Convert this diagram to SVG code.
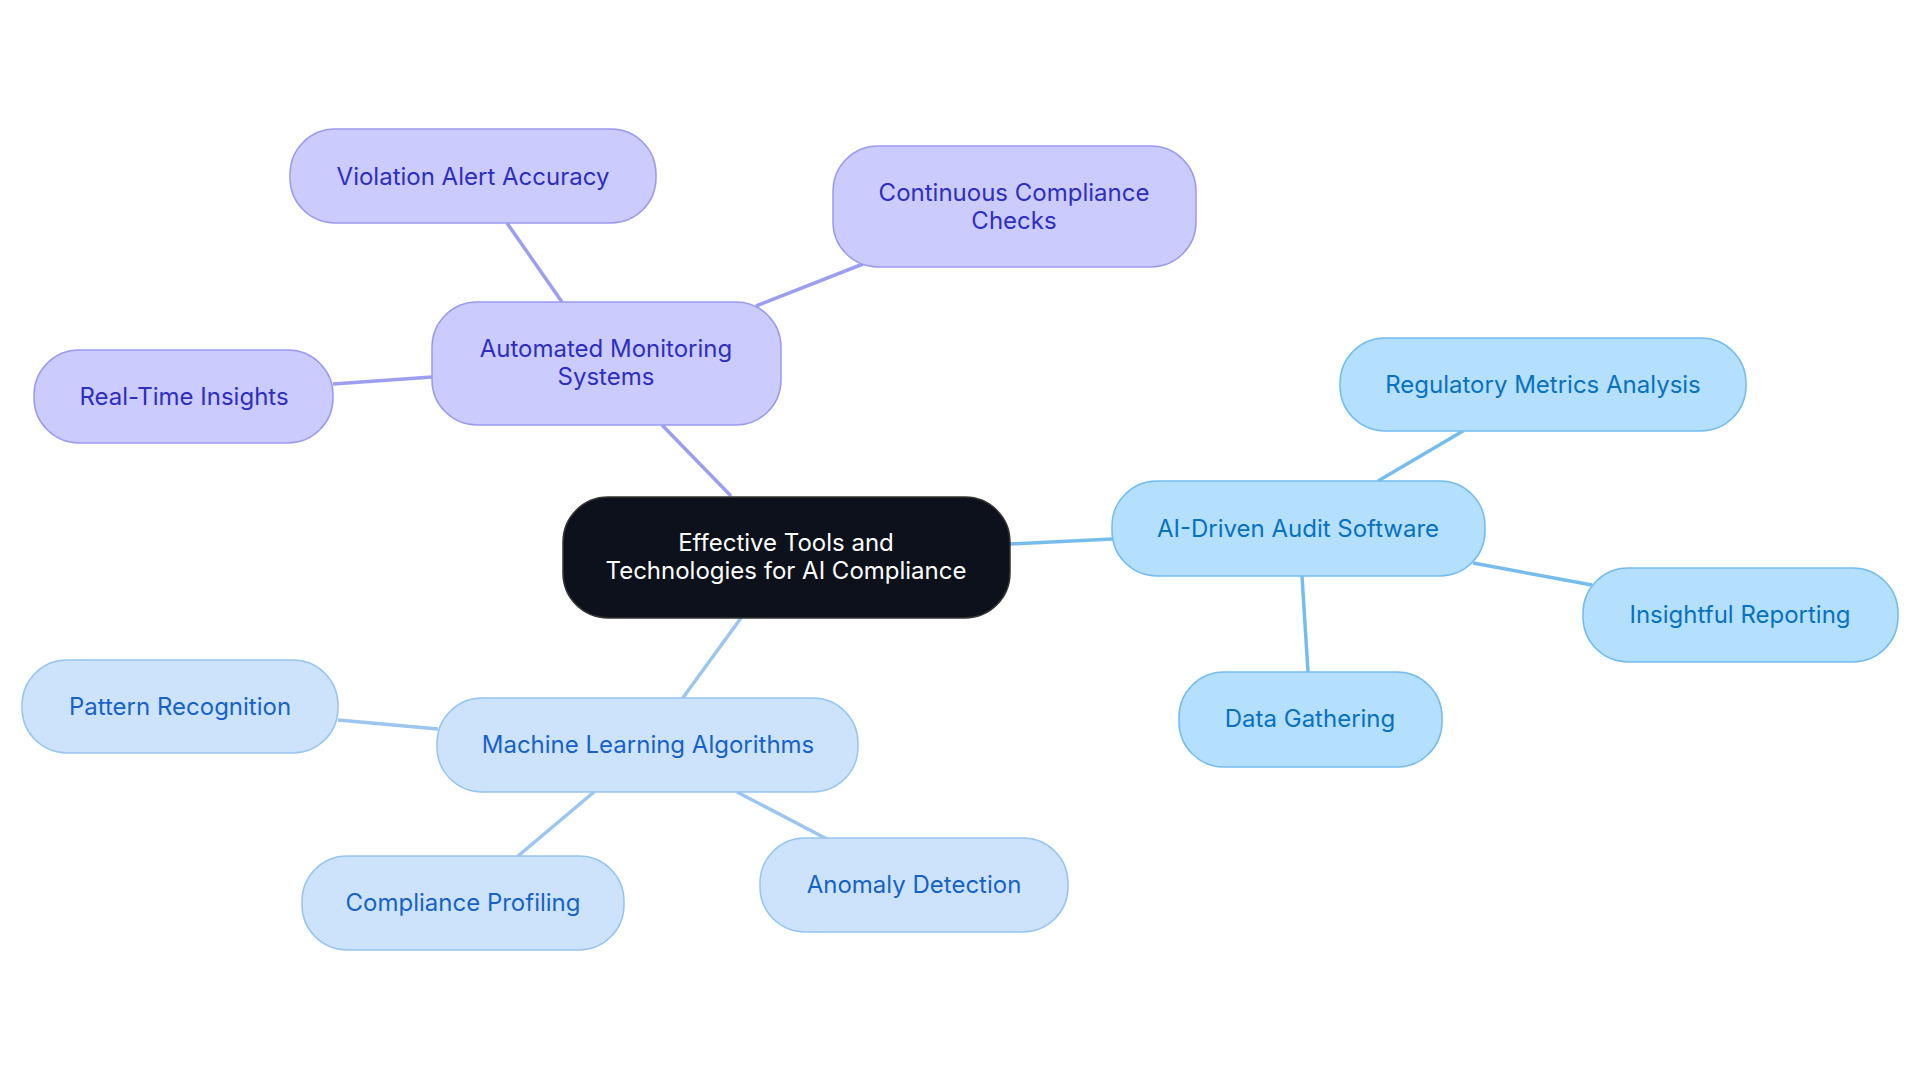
<svg xmlns="http://www.w3.org/2000/svg" width="1920" height="1083" viewBox="0 0 1920 1083">
<style>
text{font-family:Inter,"Noto Sans",sans-serif;font-size:24px;text-anchor:middle;dominant-baseline:central}
.p rect{fill:#cbcbfd;stroke:#9b9bee;stroke-width:1.5}.p text{fill:#2e2ec0}
.l rect{fill:#cde3fb;stroke:#98c4f0;stroke-width:1.5}.l text{fill:#1762c6}
.a rect{fill:#b4dffd;stroke:#74bcef;stroke-width:1.5}.a text{fill:#0871c0}
.cp{stroke:#9d9ef0;stroke-width:3.5}.cl{stroke:#9cc6f0;stroke-width:3.5}.ca{stroke:#76bdee;stroke-width:3.5}
</style>
<rect width="1920" height="1083" fill="#fff"/>
<g id="connectors">
<line class="cp" x1="731" y1="496" x2="662" y2="425"/>
<line class="cp" x1="562" y1="302" x2="507" y2="223"/>
<line class="cp" x1="756" y1="306" x2="863" y2="264"/>
<line class="cp" x1="432" y1="377" x2="333" y2="384"/>
<line class="ca" x1="1010" y1="544" x2="1112" y2="539"/>
<line class="ca" x1="1378" y1="481" x2="1463" y2="431"/>
<line class="ca" x1="1473" y1="563" x2="1592" y2="585"/>
<line class="ca" x1="1302" y1="576" x2="1308" y2="672"/>
<line class="cl" x1="741" y1="618" x2="682" y2="699"/>
<line class="cl" x1="438" y1="729" x2="338" y2="720"/>
<line class="cl" x1="594" y1="792" x2="518" y2="856"/>
<line class="cl" x1="737" y1="792" x2="827" y2="839"/>
</g>
<g id="center"><rect x="563" y="497" width="447" height="121" rx="45" fill="#0c111b" stroke="#333" stroke-width="1.5"/><text x="786" y="542" fill="#fff">Effective Tools and</text><text x="786" y="570" fill="#fff">Technologies for AI Compliance</text></g>
<g id="ams" class="p"><rect x="432" y="302" width="349" height="123" rx="45"/><text x="606" y="348">Automated Monitoring</text><text x="606" y="376">Systems</text></g>
<g id="violation" class="p"><rect x="290" y="129" width="366" height="94" rx="45"/><text x="473" y="176">Violation Alert Accuracy</text></g>
<g id="continuous" class="p"><rect x="833" y="146" width="363" height="121" rx="45"/><text x="1014" y="192">Continuous Compliance</text><text x="1014" y="220">Checks</text></g>
<g id="realtime" class="p"><rect x="34" y="350" width="299" height="93" rx="45"/><text x="184" y="396">Real-Time Insights</text></g>
<g id="ai" class="a"><rect x="1112" y="481" width="373" height="95" rx="45"/><text x="1298" y="528">AI-Driven Audit Software</text></g>
<g id="regulatory" class="a"><rect x="1340" y="338" width="406" height="93" rx="45"/><text x="1543" y="384">Regulatory Metrics Analysis</text></g>
<g id="insightful" class="a"><rect x="1583" y="568" width="315" height="94" rx="45"/><text x="1740" y="614">Insightful Reporting</text></g>
<g id="data" class="a"><rect x="1179" y="672" width="263" height="95" rx="45"/><text x="1310" y="718">Data Gathering</text></g>
<g id="ml" class="l"><rect x="437" y="698" width="421" height="94" rx="45"/><text x="648" y="744">Machine Learning Algorithms</text></g>
<g id="pattern" class="l"><rect x="22" y="660" width="316" height="93" rx="45"/><text x="180" y="706">Pattern Recognition</text></g>
<g id="profiling" class="l"><rect x="302" y="856" width="322" height="94" rx="45"/><text x="463" y="902">Compliance Profiling</text></g>
<g id="anomaly" class="l"><rect x="760" y="838" width="308" height="94" rx="45"/><text x="914" y="884">Anomaly Detection</text></g>
</svg>
